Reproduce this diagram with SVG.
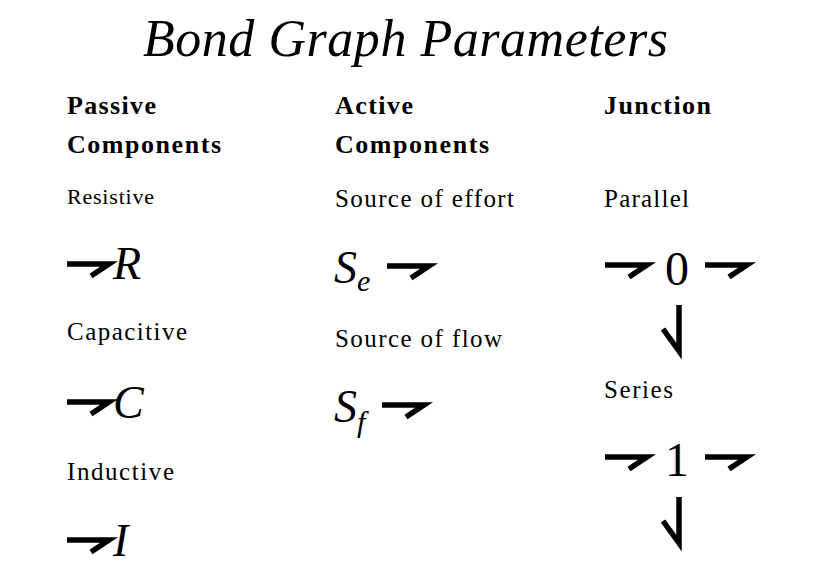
<svg xmlns="http://www.w3.org/2000/svg" width="821" height="584" viewBox="0 0 821 584">
<defs><style>
text{font-family:"Liberation Serif","DejaVu Serif",serif;fill:#000}
.t{font-size:52px;font-style:italic}
.h{font-size:26px;font-weight:bold}
.l{font-size:25px}
.s{font-size:46px;font-style:italic}
.n{font-size:48px}
.b{stroke:#000;stroke-width:5.5;fill:none}
</style>
<path id="ha" class="b" d="M0,0 H42 L24,12"/>
<path id="va" class="b" d="M0,0 V46 L-16,24"/>
</defs>
<rect width="821" height="584" fill="#fff"/>
<text class="t" x="143" y="56" textLength="525">Bond Graph Parameters</text>
<g id="passive">
<text class="h" x="67" y="114" textLength="89">Passive</text>
<text class="h" x="67" y="153" textLength="154">Components</text>
<text class="l" x="67" y="204" style="font-size:22px" textLength="87">Resistive</text>
<use href="#ha" x="67" y="264"/><text class="s" x="113" y="279">R</text>
<text class="l" x="67" y="340" textLength="120">Capacitive</text>
<use href="#ha" x="67" y="402"/><text class="s" x="113" y="418">C</text>
<text class="l" x="67" y="480" textLength="107">Inductive</text>
<use href="#ha" x="67" y="540"/><text class="s" x="113" y="556">I</text>
</g>
<g id="active">
<text class="h" x="335" y="114" textLength="78">Active</text>
<text class="h" x="335" y="153" textLength="154">Components</text>
<text class="l" x="335" y="207" textLength="179">Source of effort</text>
<text class="s" x="334" y="283">S<tspan font-size="30" dy="8">e</tspan></text>
<use href="#ha" x="387" y="266"/>
<text class="l" x="335" y="347" textLength="167">Source of flow</text>
<text class="s" x="334" y="422">S<tspan font-size="30" dy="10">f</tspan></text>
<use href="#ha" x="382" y="405"/>
</g>
<g id="junction">
<text class="h" x="604" y="114" textLength="107">Junction</text>
<text class="l" x="604" y="207" textLength="85">Parallel</text>
<use href="#ha" x="605" y="265"/>
<text class="n" x="677" y="285" text-anchor="middle">0</text>
<use href="#ha" x="705" y="265"/>
<use href="#va" x="679" y="305"/>
<text class="l" x="604" y="398" textLength="69">Series</text>
<use href="#ha" x="605" y="457"/>
<text class="n" x="677" y="476" text-anchor="middle">1</text>
<use href="#ha" x="705" y="457"/>
<use href="#va" x="679" y="497"/>
</g>
</svg>
